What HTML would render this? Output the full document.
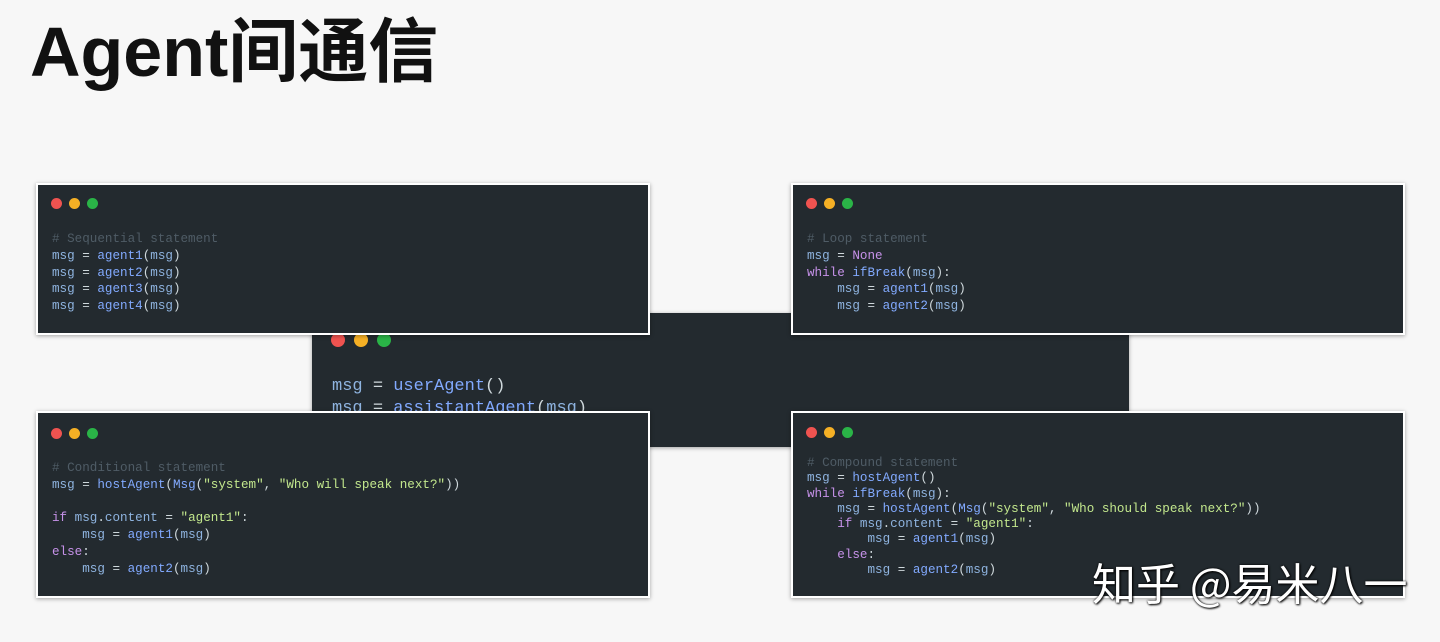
<!DOCTYPE html>
<html><head><meta charset="utf-8"><style>
body{margin:0;width:1440px;height:642px;background:#f7f7f7;position:relative;overflow:hidden;font-family:"Liberation Sans","Noto Sans CJK SC",sans-serif}
h1{position:absolute;left:30px;top:-4px;margin:0;font-size:70px;font-weight:bold;color:#111;letter-spacing:0}
.p{position:absolute;background:#232a2f;border:2px solid #fff;box-shadow:0 1px 4px rgba(0,0,0,.35);box-sizing:border-box}
.d{position:absolute;top:11px;left:13px}
.d i{display:inline-block;width:11px;height:11px;border-radius:50%;margin-right:7px}
pre{position:absolute;margin:0;font-family:"Liberation Mono",monospace;font-size:12.6px;line-height:16.8px;color:#8fb4e0}
.c{color:#4f5c66}.f{color:#82aaff}.k{color:#c792ea}.s{color:#c3e88d}.w{color:#cfd8dc}
</style></head><body>
<h1>Agent间通信</h1>
<div class="p" style="left:312px;top:313px;width:817px;height:134px;border:none;overflow:hidden">
<div class="d" style="top:20px;left:19px"><i style="background:#ef5350;width:14px;height:14px;margin-right:9px"></i><i style="background:#f5b025;width:14px;height:14px;margin-right:9px"></i><i style="background:#2ab447;width:14px;height:14px"></i></div>
<pre style="left:20px;top:63px;font-size:17px;line-height:22px">msg <span class="w">=</span> <span class="f">userAgent</span><span class="w">()</span>
msg <span class="w">=</span> <span class="f">assistantAgent</span><span class="w">(</span>msg<span class="w">)</span></pre></div>
<div class="p" style="left:36px;top:183px;width:614px;height:152px"><div class="d"><i style="background:#ef5350"></i><i style="background:#f5b025"></i><i style="background:#2ab447"></i></div>
<pre style="left:14px;top:46px"><span class="c"># Sequential statement</span>
msg <span class="w">=</span> <span class="f">agent1</span><span class="w">(</span>msg<span class="w">)</span>
msg <span class="w">=</span> <span class="f">agent2</span><span class="w">(</span>msg<span class="w">)</span>
msg <span class="w">=</span> <span class="f">agent3</span><span class="w">(</span>msg<span class="w">)</span>
msg <span class="w">=</span> <span class="f">agent4</span><span class="w">(</span>msg<span class="w">)</span></pre></div>
<div class="p" style="left:791px;top:183px;width:614px;height:152px"><div class="d"><i style="background:#ef5350"></i><i style="background:#f5b025"></i><i style="background:#2ab447"></i></div>
<pre style="left:14px;top:46px"><span class="c"># Loop statement</span>
msg <span class="w">=</span> <span class="k">None</span>
<span class="k">while</span> <span class="f">ifBreak</span><span class="w">(</span>msg<span class="w">):</span>
    msg <span class="w">=</span> <span class="f">agent1</span><span class="w">(</span>msg<span class="w">)</span>
    msg <span class="w">=</span> <span class="f">agent2</span><span class="w">(</span>msg<span class="w">)</span></pre></div>
<div class="p" style="left:36px;top:411px;width:614px;height:187px"><div class="d" style="top:13px"><i style="background:#ef5350"></i><i style="background:#f5b025"></i><i style="background:#2ab447"></i></div>
<pre style="left:14px;top:47px"><span class="c"># Conditional statement</span>
msg <span class="w">=</span> <span class="f">hostAgent</span><span class="w">(</span><span class="f">Msg</span><span class="w">(</span><span class="s">"system"</span><span class="w">,</span> <span class="s">"Who will speak next?"</span><span class="w">))</span>

<span class="k">if</span> msg<span class="w">.</span>content <span class="w">=</span> <span class="s">"agent1"</span><span class="w">:</span>
    msg <span class="w">=</span> <span class="f">agent1</span><span class="w">(</span>msg<span class="w">)</span>
<span class="k">else</span><span class="w">:</span>
    msg <span class="w">=</span> <span class="f">agent2</span><span class="w">(</span>msg<span class="w">)</span></pre></div>
<div class="p" style="left:791px;top:411px;width:614px;height:187px"><div class="d" style="top:12px"><i style="background:#ef5350"></i><i style="background:#f5b025"></i><i style="background:#2ab447"></i></div>
<pre style="left:14px;top:43px;line-height:15.3px"><span class="c"># Compound statement</span>
msg <span class="w">=</span> <span class="f">hostAgent</span><span class="w">()</span>
<span class="k">while</span> <span class="f">ifBreak</span><span class="w">(</span>msg<span class="w">):</span>
    msg <span class="w">=</span> <span class="f">hostAgent</span><span class="w">(</span><span class="f">Msg</span><span class="w">(</span><span class="s">"system"</span><span class="w">,</span> <span class="s">"Who should speak next?"</span><span class="w">))</span>
    <span class="k">if</span> msg<span class="w">.</span>content <span class="w">=</span> <span class="s">"agent1"</span><span class="w">:</span>
        msg <span class="w">=</span> <span class="f">agent1</span><span class="w">(</span>msg<span class="w">)</span>
    <span class="k">else</span><span class="w">:</span>
        msg <span class="w">=</span> <span class="f">agent2</span><span class="w">(</span>msg<span class="w">)</span></pre></div>
<div style="position:absolute;left:1092px;top:556px;font-size:44px;line-height:50px;color:#fff;text-shadow:1px 1px 2px #000,0 0 2px #000;font-family:'Noto Sans CJK SC',sans-serif">知乎 @易米八一</div>
</body></html>
